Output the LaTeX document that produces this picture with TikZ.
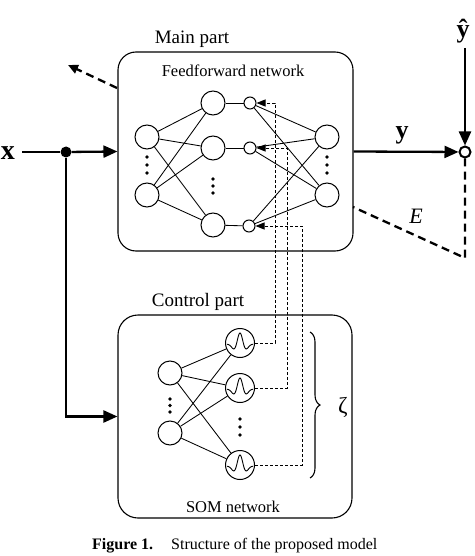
\documentclass[tikz,border=0pt]{standalone}
\usepackage{fontspec}
\setmainfont{Liberation Serif}
\usetikzlibrary{arrows.meta,decorations.pathreplacing,calc}
\begin{document}
\begin{tikzpicture}[x=1pt,y=-1pt,
 neuron/.style={circle,draw,line width=1pt,minimum size=24pt,inner sep=0pt},
 smallnode/.style={circle,draw,line width=1pt,minimum size=12pt,inner sep=0pt},
 somnode/.style={circle,draw,line width=1pt,minimum size=29pt,inner sep=0pt},
 part/.style={draw,line width=1.1pt,rounded corners=18pt,inner sep=0pt},
 link/.style={line width=0.85pt},
 fb/.style={line width=0.9pt,dash pattern=on 3pt off 2pt},
 fbtip/.style={-{Triangle[length=9pt,width=7pt]}},
 bigarrow/.style={line width=2.3pt,-{Triangle[length=14pt,width=12pt]}},
 bigline/.style={line width=2.3pt},
 bigdash/.style={line width=2.3pt,dash pattern=on 8pt off 5pt},
 lbl/.style={inner sep=0pt,anchor=base,font=\fontsize{19}{22}\selectfont},
 sublbl/.style={inner sep=0pt,anchor=base,font=\fontsize{16.5}{19}\selectfont},
 vdot/.style={circle,fill,inner sep=0pt,minimum size=3.8pt}
]
\useasboundingbox (0,0) rectangle (474,556);

% boxes
\node[part,minimum width=235pt,minimum height=199pt] (main) at (235.5,151.5) {};
\node[part,minimum width=234pt,minimum height=203pt,rounded corners=20pt] (ctrl) at (235,416.5) {};

\node[lbl] (mainlbl) at (192,44) {Main part};
\node[sublbl] (fflbl) at (233,77) {Feedforward network};
\node[lbl] (ctrllbl) at (198,306.5) {Control part};
\node[sublbl] (somlbl) at (233,512) {SOM network};

% main network
\node[neuron] (i1) at (147,137) {};
\node[neuron] (i2) at (147,195) {};
\node[neuron] (h1) at (213,103) {};
\node[neuron] (h2) at (213,148) {};
\node[neuron] (h3) at (213,225) {};
\node[smallnode] (c1) at (250,103) {};
\node[smallnode] (c2) at (250,148) {};
\node[smallnode] (c3) at (249,226) {};
\node[neuron] (o1) at (327,137) {};
\node[neuron] (o2) at (327,195) {};

\foreach \a in {i1,i2}{\foreach \b in {h1,h2,h3}{\draw[link] (\a) -- (\b);}}
\draw[link] (h1) -- (c1);
\draw[link] (h2) -- (c2);
\draw[link] (h3) -- (c3);
\foreach \a in {c1,c2,c3}{\foreach \b in {o1,o2}{\draw[link] (\a) -- (\b);}}

\foreach \yy [count=\k] in {157,165,173}{\node[vdot] (di\k) at (147,\yy) {};}
\foreach \yy [count=\k] in {179,186,193}{\node[vdot] (dh\k) at (213,\yy) {};}
\foreach \yy [count=\k] in {157,165,173}{\node[vdot] (do\k) at (327,\yy) {};}

% control network
\node[neuron] (ci1) at (170,373) {};
\node[neuron] (ci2) at (170,433) {};
\node[somnode] (s1) at (240,343) {};
\node[somnode] (s2) at (240,388) {};
\node[somnode] (s3) at (240,465) {};
\foreach \a in {ci1,ci2}{\foreach \b in {s1,s2,s3}{\draw[link] (\a) -- (\b);}}
\foreach \yy [count=\k] in {399,405.5,412}{\node[vdot] (dci\k) at (170,\yy) {};}
\foreach \yy [count=\k] in {419,427,435}{\node[vdot] (ds\k) at (240,\yy) {};}

% wavelet glyphs
\foreach \cy in {343,388,465}{
  \draw[line width=0.9pt] plot[domain=-13:13,samples=70,smooth]
    ({240+\x},{\cy+1-11*(1-\x*\x/12.96)*exp(0-\x*\x/25.92)});
}

% feedback dashed lines
\draw[fb,fbtip] (s1) -| (275,103) -- (c1);
\draw[fb,fbtip] (s2) -| (287,148) -- (c2);
\draw[fb,fbtip] (s3) -| (302,226) -- (c3);

% brace and zeta
\draw[line width=1.1pt,decorate,decoration={brace,amplitude=10pt}] (310,332) -- (310,478);
\node[inner sep=0pt,font=\fontsize{23}{27}\selectfont] (zeta) at (343,407) {ζ};

% input
\node[inner sep=0pt,anchor=base,font=\fontsize{28}{32}\selectfont\bfseries] (xlbl) at (8,160) {x};
\coordinate (xs) at (22,152);
\node[circle,fill,inner sep=0pt,minimum size=11pt] (dot) at (66,152) {};
\draw[bigline] (xs) -- (dot);
\draw[bigarrow] (dot) -- (main.west);
\draw[bigarrow] (dot) |- (ctrl.west);

% output
\node[circle,draw,fill=white,line width=2pt,minimum size=11pt,inner sep=0pt] (sum) at (465,152) {};
\draw[bigarrow] (main.east) -- (sum);
\node[inner sep=0pt,anchor=base,font=\fontsize{26}{30}\selectfont\bfseries] (ylbl) at (402,139) {y};
\node[inner sep=0pt,anchor=base,font=\fontsize{26}{30}\selectfont\bfseries] (yhat) at (463,38) {\^y};
\coordinate (yhs) at (465,48);
\draw[bigarrow] (yhs) -- (sum);

% error dashed
\coordinate (ec) at (465,258);
\coordinate (eb) at (353,207);
\draw[bigdash] (sum) -- (ec) -- (eb);
\node[inner sep=0pt,anchor=base,font=\fontsize{22}{26}\selectfont\itshape] (elbl) at (416,223) {E};

% upper-left dashed arrow
\coordinate (ula) at (117,88);
\coordinate (ulb) at (68,65);
\draw[bigdash,-{Triangle[length=10pt,width=9pt]}] (ula) -- (ulb);

% caption
\node[inner sep=0pt,anchor=base west,font=\fontsize{16}{19}\selectfont\bfseries] (fig) at (92,549) {Figure 1.};
\node[inner sep=0pt,anchor=base west,font=\fontsize{16}{19}\selectfont] (cap) at (171,549) {Structure of the proposed model};
\end{tikzpicture}
\end{document}
